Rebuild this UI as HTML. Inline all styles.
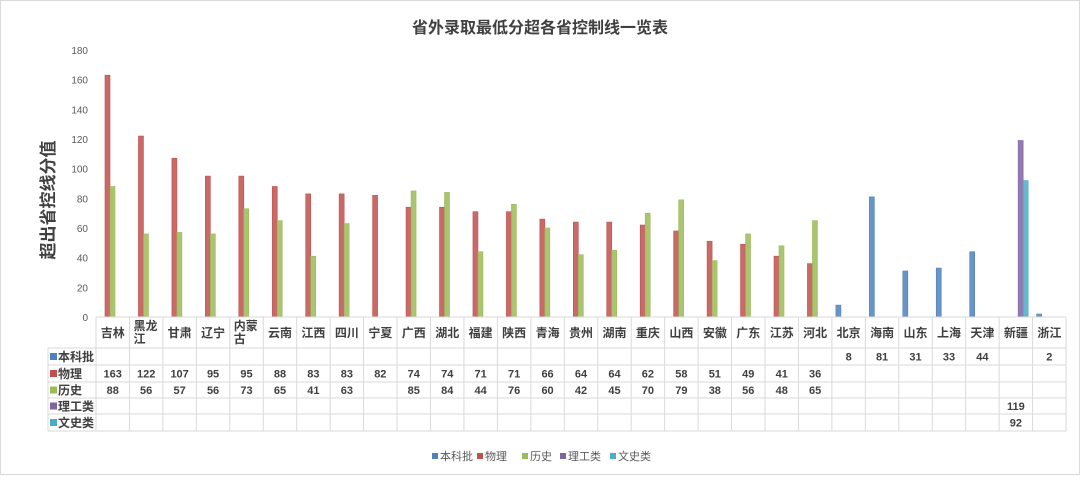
<!DOCTYPE html>
<html><head><meta charset="utf-8">
<style>
body{margin:0;background:#fff;font-family:"Liberation Sans","Noto Sans CJK SC",sans-serif;}
svg text{font-family:"Liberation Sans","Noto Sans CJK SC",sans-serif;}
</style></head>
<body>
<svg id="c" width="1080" height="475" xmlns="http://www.w3.org/2000/svg">
<rect x="0.5" y="0.5" width="1079" height="474" fill="#fff" stroke="#d9d9d9"/>
<text x="540" y="33" text-anchor="middle" font-size="16" font-weight="bold" fill="#404040">省外录取最低分超各省控制线一览表</text>
<text transform="translate(54,200) rotate(-90)" text-anchor="middle" font-size="17" font-weight="bold" fill="#404040">超出省控线分值</text>
<g id="plot"></g>
<g id="legend"></g>
</svg>
<script>
const categories=["吉林","黑龙\n江","甘肃","辽宁","内蒙\n古","云南","江西","四川","宁夏","广西","湖北","福建","陕西","青海","贵州","湖南","重庆","山西","安徽","广东","江苏","河北","北京","海南","山东","上海","天津","新疆","浙江"];
const seriesNames=["本科批","物理","历史","理工类","文史类"];
const benke=[null,null,null,null,null,null,null,null,null,null,null,null,null,null,null,null,null,null,null,null,null,null,8,81,31,33,44,null,2];
const wuli=[163,122,107,95,95,88,83,83,82,74,74,71,71,66,64,64,62,58,51,49,41,36,null,null,null,null,null,null,null];
const lishi=[88,56,57,56,73,65,41,63,null,85,84,44,76,60,42,45,70,79,38,56,48,65,null,null,null,null,null,null,null];
const ligong=[null,null,null,null,null,null,null,null,null,null,null,null,null,null,null,null,null,null,null,null,null,null,null,null,null,null,null,119,null];
const wenshi=[null,null,null,null,null,null,null,null,null,null,null,null,null,null,null,null,null,null,null,null,null,null,null,null,null,null,null,92,null];
const yTicks=[0,20,40,60,80,100,120,140,160,180];
const seriesData=[benke,wuli,lishi,ligong,wenshi];
const colors=["#4f81bd","#c0504d","#9bbb59","#8064a2","#4bacc6"];
const NS="http://www.w3.org/2000/svg";
const x0=96,colW=33.45,yBase=317,yTop=50,yMax=180;
const y=v=>yBase-(v/yMax)*(yBase-yTop);
const xCol=i=>x0+i*colW;
const plot=document.getElementById('plot');
function mk(tag,attrs,parent){const e=document.createElementNS(NS,tag);for(const k in attrs)e.setAttribute(k,attrs[k]);(parent||plot).appendChild(e);return e;}
yTicks.forEach(t=>{
  const tx=mk('text',{x:88,y:y(t)+4,'text-anchor':'end','font-size':10,fill:'#595959'});
  
  
  tx.textContent=t;
});
seriesData.forEach((arr,s)=>{
  arr.forEach((v,i)=>{
    if(v==null)return;
    const r=mk('rect',{x:xCol(i)+4+s*5,y:y(v),width:5,height:yBase-y(v),fill:colors[s],stroke:colors[s],'stroke-width':0.6,'fill-opacity':0.85});
    
    
  });
});
const rowY=[317,348,365,382,398,414,431];
const gc='#d9d9d9';
const xEnd=xCol(categories.length);
for(let r=0;r<rowY.length;r++){
  const l=mk('line',{x1:r==0?x0:48,x2:xEnd,y1:rowY[r],y2:rowY[r],stroke:gc});
  
  
}
for(let i=0;i<=categories.length;i++){
  const l=mk('line',{x1:xCol(i),x2:xCol(i),y1:317,y2:431,stroke:gc});
  
  
}
const l0=mk('line',{x1:48,x2:48,y1:348,y2:431,stroke:gc});


categories.forEach((c,i)=>{
  const parts=c.split('\n');
  const cx=xCol(i)+colW/2;
  parts.forEach((p,k)=>{
    const t=mk('text',{x:parts.length>1?xCol(i)+4:cx,y:parts.length>1?330+k*13:337,'text-anchor':parts.length>1?'start':'middle','font-size':12,'font-weight':'bold',fill:'#404040'});
    
    
    t.textContent=p;
  });
});
seriesNames.forEach((n,s)=>{
  const ry=(rowY[s+1]+rowY[s+2])/2;
  const sw=mk('rect',{x:50,y:ry-3.5,width:7,height:7,fill:colors[s]});
  
  
  const t=mk('text',{x:58,y:ry+4.5,'font-size':12,'font-weight':'bold',fill:'#404040'});
  
  
  t.textContent=n;
  seriesData[s].forEach((v,i)=>{
    if(v==null)return;
    const tv=mk('text',{x:xCol(i)+colW/2,y:ry+4,'text-anchor':'middle','font-size':11,'font-weight':'bold',fill:'#404040'});
    
    
    tv.textContent=v;
  });
});
const lg=document.getElementById('legend');
const lx=[432,477,522,560,610];
seriesNames.forEach((n,s)=>{
  const k=mk('rect',{x:lx[s],y:453,width:6,height:6,fill:colors[s]},lg);
  
  
  const t=mk('text',{x:lx[s]+8,y:460,'font-size':11,fill:'#595959'},lg);
  
  
  t.textContent=n;
});
</script>
</body></html>
